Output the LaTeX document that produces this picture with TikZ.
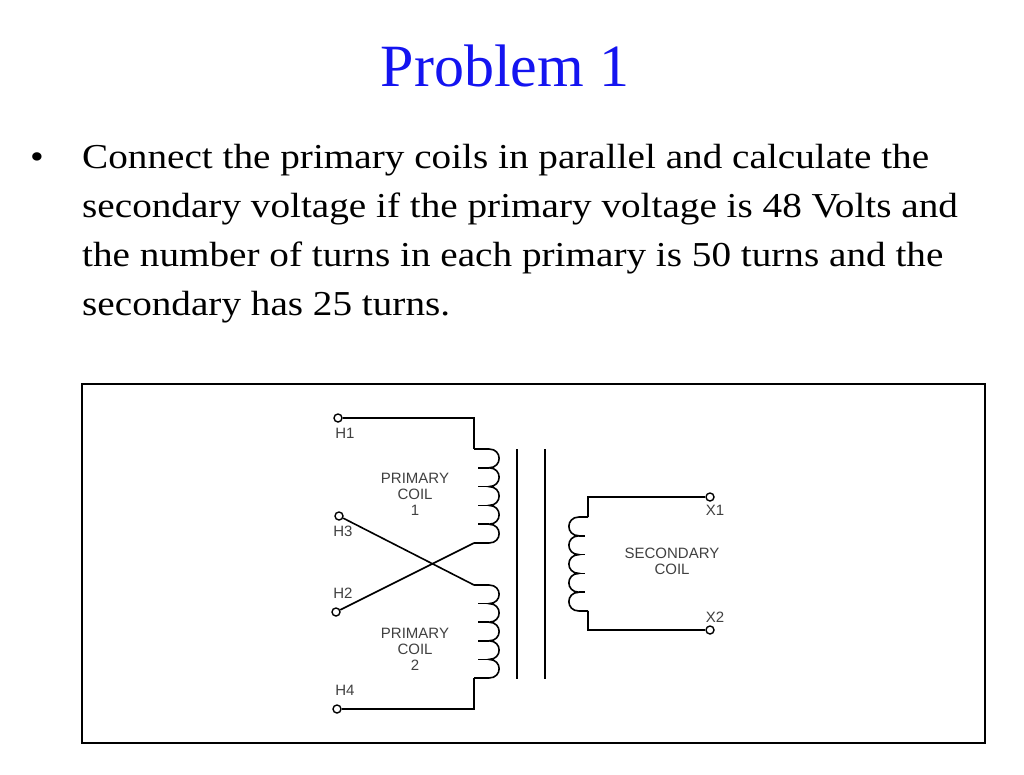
\documentclass[tikz,border=0pt]{standalone}
\usepackage{fontspec}
\setmainfont{Liberation Serif}
\newfontfamily\lbl{Liberation Sans}
\begin{document}
\begin{tikzpicture}[x=1pt,y=-1pt,
  wire/.style={line width=1.6pt},
  term/.style={circle,draw,line width=1.4pt,fill=white,minimum size=8pt,inner sep=0pt},
  lab/.style={font=\lbl\fontsize{15}{16}\selectfont,text=black!75,align=center,inner sep=0pt},
  body/.style={font=\fontsize{35}{49}\selectfont,anchor=base west,inner sep=0pt,xscale=1.12}]
\useasboundingbox (0,0) rectangle (1024,774);
\node[font=\fontsize{60}{66}\selectfont,text={rgb,255:red,20;green,20;blue,240}] (title) at (505,66) {Problem 1};
\node[body] (bul) at (30,168) {•};
\node[body] (l1) at (82,168) {Connect the primary coils in parallel and calculate the};
\node[body] (l2) at (82,217) {secondary voltage if the primary voltage is 48 Volts and};
\node[body] (l3) at (82,266) {the number of turns in each primary is 50 turns and the};
\node[body] (l4) at (82,315) {secondary has 25 turns.};
\draw[line width=1.8pt] (82,384) rectangle (985,743);
% primary coil 1
\draw[wire] (474,449) -- (489,449)
  \foreach \i in {0,...,4} { .. controls ({489+13.5},{449+18.8*\i}) and ({489+13.5},{449+18.8*(\i+1)}) .. (489,{449+18.8*(\i+1)}) }
  -- (474,543);
\foreach \i in {1,...,4} \draw[wire] (478,{449+18.8*\i}) -- (489,{449+18.8*\i});
% primary coil 2
\draw[wire] (474,585) -- (489,585)
  \foreach \i in {0,...,4} { .. controls ({489+13.5},{585+18.6*\i}) and ({489+13.5},{585+18.6*(\i+1)}) .. (489,{585+18.6*(\i+1)}) }
  -- (474,678);
\foreach \i in {1,...,4} \draw[wire] (478,{585+18.6*\i}) -- (489,{585+18.6*\i});
% secondary
\draw[wire] (588,517) -- (579,517)
  \foreach \i in {0,...,4} { .. controls ({579-13.5},{517+18.8*\i}) and ({579-13.5},{517+18.8*(\i+1)}) .. (579,{517+18.8*(\i+1)}) }
  -- (588,611);
\foreach \i in {1,...,4} \draw[wire] (579,{517+18.8*\i}) -- (585,{517+18.8*\i});
% core
\draw[line width=2pt] (517,449) -- (517,679);
\draw[line width=2pt] (545,449) -- (545,679);
% terminals
\node[term] (h1) at (338,418) {};
\node[term] (h3) at (339,516) {};
\node[term] (h2) at (336,612) {};
\node[term] (h4) at (337,709) {};
\node[term] (x1) at (710,497) {};
\node[term] (x2) at (710,630) {};
\coordinate (c1t) at (474,449);
\coordinate (c1b) at (474,543);
\coordinate (c2t) at (474,585);
\coordinate (c2b) at (474,678);
\coordinate (st) at (588,517);
\coordinate (sb) at (588,611);
\draw[wire] (h1) -- (474,418) -- (c1t);
\draw[wire] (h4) -- (474,709) -- (c2b);
\draw[wire] (h3) -- (c2t);
\draw[wire] (h2) -- (c1b);
\draw[wire] (x1) -- (588,497) -- (st);
\draw[wire] (x2) -- (588,630) -- (sb);
% labels
\node[lab] (lh1) at (345,433) {H1};
\node[lab] (lh3) at (343,531) {H3};
\node[lab] (lh2) at (343,593) {H2};
\node[lab] (lh4) at (345,690) {H4};
\node[lab] (lx1) at (715,510) {X1};
\node[lab] (lx2) at (715,617) {X2};
\node[lab] (p1) at (415,494) {PRIMARY\\COIL\\1};
\node[lab] (p2) at (415,649) {PRIMARY\\COIL\\2};
\node[lab] (sc) at (672,561) {SECONDARY\\COIL};
\end{tikzpicture}
\end{document}
